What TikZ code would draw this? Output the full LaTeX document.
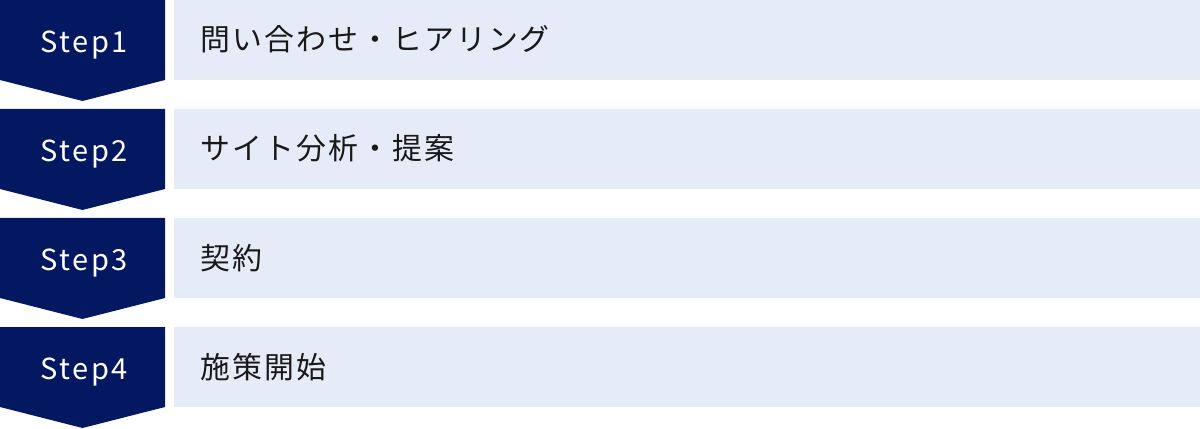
\documentclass[tikz,border=0pt]{standalone}
\usepackage{fontspec}
\setmainfont{Noto Sans CJK JP}
\newfontfamily\pasofont[LetterSpace=9]{Noto Sans CJK JP}
\newfontfamily\textofont[LetterSpace=7]{Noto Sans CJK JP}
\definecolor{navy}{RGB}{4,24,97}
\definecolor{lavender}{RGB}{230,235,248}
\begin{document}
\begin{tikzpicture}

	\tikzstyle{paso} = [fill=navy]
	\tikzstyle{caja} = [fill=lavender,inner sep=0pt,minimum width=20.52cm,minimum height=1.6cm,anchor=north west]
	\tikzstyle{etiqueta} = [white,font=\pasofont\fontsize{16.5}{16.5}\selectfont,anchor=base,inner sep=0pt]
	\tikzstyle{texto} = [black!90,font=\textofont\fontsize{17}{17}\selectfont,anchor=base west,inner sep=0pt]

	\useasboundingbox (0,0) rectangle (24,-8.58);

	% flechas de los pasos
	\fill[paso] (0,0) -- (3.3,0) -- (3.3,-1.6) -- (1.65,-2.02) -- (0,-1.6) -- cycle;
	\fill[paso] (0,-2.18) -- (3.3,-2.18) -- (3.3,-3.78) -- (1.65,-4.2) -- (0,-3.78) -- cycle;
	\fill[paso] (0,-4.36) -- (3.3,-4.36) -- (3.3,-5.96) -- (1.65,-6.38) -- (0,-5.96) -- cycle;
	\fill[paso] (0,-6.54) -- (3.3,-6.54) -- (3.3,-8.14) -- (1.65,-8.56) -- (0,-8.14) -- cycle;

	\node[etiqueta] (s1) at (1.68,-1.046) {Step1};
	\node[etiqueta] (s2) at (1.68,-3.226) {Step2};
	\node[etiqueta] (s3) at (1.68,-5.406) {Step3};
	\node[etiqueta] (s4) at (1.68,-7.586) {Step4};

	% cajas
	\node[caja] (c1) at (3.48,0) {};
	\node[caja] (c2) at (3.48,-2.18) {};
	\node[caja] (c3) at (3.48,-4.36) {};
	\node[caja] (c4) at (3.48,-6.54) {};

	\node[texto] (t1) at (4.0,-1.02) {問い合わせ・ヒアリング};
	\node[texto] (t2) at (4.0,-3.2) {サイト分析・提案};
	\node[texto] (t3) at (4.0,-5.38) {契約};
	\node[texto] (t4) at (4.0,-7.56) {施策開始};

\end{tikzpicture}
\end{document}
